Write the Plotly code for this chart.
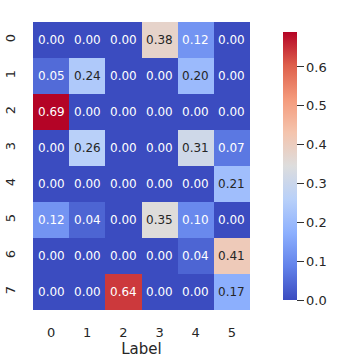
import plotly.graph_objects as go

rows = ["0", "1", "2", "3", "4", "5", "6", "7"]
cols = ["0", "1", "2", "3", "4", "5"]
values = [
    [0.00, 0.00, 0.00, 0.38, 0.12, 0.00],
    [0.05, 0.24, 0.00, 0.00, 0.20, 0.00],
    [0.69, 0.00, 0.00, 0.00, 0.00, 0.00],
    [0.00, 0.26, 0.00, 0.00, 0.31, 0.07],
    [0.00, 0.00, 0.00, 0.00, 0.00, 0.21],
    [0.12, 0.04, 0.00, 0.35, 0.10, 0.00],
    [0.00, 0.00, 0.00, 0.00, 0.04, 0.41],
    [0.00, 0.00, 0.64, 0.00, 0.00, 0.17],
]
x_title = "Label"

coolwarm = [
    [0.0, "rgb(59,76,192)"],
    [0.125, "rgb(98,130,234)"],
    [0.25, "rgb(141,176,254)"],
    [0.375, "rgb(184,208,249)"],
    [0.5, "rgb(221,221,221)"],
    [0.625, "rgb(244,196,173)"],
    [0.75, "rgb(244,154,123)"],
    [0.875, "rgb(222,96,76)"],
    [1.0, "rgb(180,4,38)"],
]

zmin, zmax = 0.0, 0.69

fig = go.Figure()
fig.add_trace(go.Heatmap(
    z=values, x=cols, y=rows,
    colorscale=coolwarm, zmin=zmin, zmax=zmax,
    colorbar=dict(
        x=1.106, xanchor="left", xref="paper",
        y=0.5, yanchor="middle", len=1.0, lenmode="fraction",
        thickness=14, outlinewidth=0,
        tickvals=[0.0, 0.1, 0.2, 0.3, 0.4, 0.5, 0.6],
        tickformat=".1f", ticks="outside", ticklen=7, tickwidth=1.3,
        tickcolor="#333", tickfont=dict(family="DejaVu Sans", size=13, color="#262626"),
    ),
    hoverinfo="skip",
))

for i, r in enumerate(rows):
    for j, c in enumerate(cols):
        v = values[i][j]
        frac = (v - zmin) / (zmax - zmin)
        color = "#262626" if 0.2 < frac < 0.7 else "white"
        fig.add_annotation(x=c, y=r, text=f"{v:.2f}", showarrow=False,
                           font=dict(family="DejaVu Sans", size=12, color=color))

fig.update_layout(
    width=337, height=363,
    margin=dict(l=33, r=87, t=22, b=53, autoexpand=False),
    paper_bgcolor="white", plot_bgcolor="white",
    xaxis=dict(type="category", showgrid=False, zeroline=False, ticks="",
               automargin=False, ticklabelstandoff=13,
               tickfont=dict(family="DejaVu Sans", size=13, color="#262626"),
               title=dict(text=x_title, standoff=3,
                          font=dict(family="DejaVu Sans", size=15, color="#262626"))),
    yaxis=dict(type="category", autorange="reversed", showgrid=False, zeroline=False,
               automargin=False, ticks="", tickangle=-90, ticklabelstandoff=14,
               tickfont=dict(family="DejaVu Sans", size=13, color="#262626")),
)

fig.write_html("out.html")
